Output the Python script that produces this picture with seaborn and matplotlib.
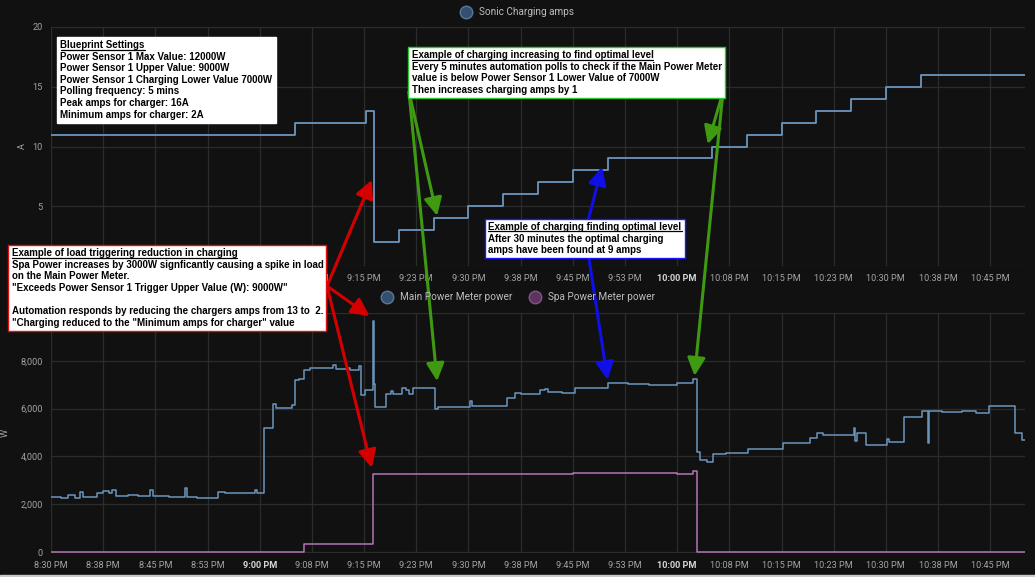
import matplotlib
matplotlib.use("Agg")
import matplotlib.pyplot as plt
from matplotlib.lines import Line2D
from matplotlib.patches import ConnectionPatch, Rectangle
from matplotlib.ticker import FuncFormatter
import numpy as np
import pandas as pd
import seaborn as sns

# --- data (x = minutes after 8:30 PM) ---
amp_min = [0, 35, 45.3, 46.4, 50, 55, 60, 65, 70, 75, 80, 95, 100, 105, 110, 115, 120, 125, 140]
amp_val = [11, 12, 13, 2, 3, 4, 5, 6, 7, 8, 9, 10, 11, 12, 13, 14, 15, 16, 16]

main_min = [0, 1.5, 2.5, 3.5, 4.2, 4.6, 6.6, 7.5, 8.3, 8.8, 9.4, 11, 12.5, 14.3, 14.6,
            17, 19.2, 19.5, 21, 24, 25, 26.5, 29.3, 29.6, 30.6, 31.9, 32.3, 34.6, 35.1,
            35.6, 36.4, 37.2, 39, 40.5, 41, 42.5, 43, 44.2, 44.6, 45.2, 46.3, 46.4, 46.6,
            48.2, 48.8, 49.2, 50.4, 51, 51.5, 52, 55.2, 55.6, 56.6, 60.2, 60.5, 61.5,
            65.5, 66.7, 67.5, 70.3, 71, 71.5, 73.5, 75.3, 76, 80.1, 83, 86, 88.5, 90,
            92.3, 92.8, 93.3, 94.3, 95.2, 97, 100.2, 105.2, 109.1, 110.1, 111, 115.4,
            115.6, 115.8, 117.2, 120.1, 120.5, 122.6, 125.2, 126, 126.2, 128, 131, 133,
            134.8, 138.5, 139.5, 140]
main_val = [2320, 2280, 2400, 2250, 2500, 2300, 2480, 2550, 2450, 2600, 2350, 2380, 2330, 2600, 2330,
            2300, 2700, 2300, 2280, 2500, 2480, 2450, 2600, 2450, 5200, 6200, 6020, 6150, 7200,
            7250, 7620, 7680, 7700, 7820, 7650, 7700, 7600, 7780, 6550, 6760, 9650, 7050, 6060,
            6600, 6750, 6600, 6850, 6780, 6600, 6850, 5980, 6080, 6050, 6330, 6100, 6130,
            6430, 6640, 6600, 6780, 6820, 6700, 6640, 6850, 6880, 7080, 7040, 7000, 6990, 7060,
            7220, 4200, 3850, 3780, 4100, 4130, 4300, 4550, 4760, 4970, 4900, 5180,
            4650, 5000, 4480, 4740, 4600, 5630, 5900, 4550, 5880, 5850, 5880, 5820,
            6100, 4970, 4690, 4690]

spa_min = [0, 36.4, 46.3, 60, 75, 90, 92.3, 92.9, 140]
spa_val = [0, 350, 3250, 3270, 3300, 3270, 3380, 0, 0]

tick_min = list(np.arange(0, 136, 7.5))
tick_labels = ["8:30 PM", "8:38 PM", "8:45 PM", "8:53 PM", "9:00 PM", "9:08 PM", "9:15 PM",
               "9:23 PM", "9:30 PM", "9:38 PM", "9:45 PM", "9:53 PM", "10:00 PM", "10:08 PM",
               "10:15 PM", "10:23 PM", "10:30 PM", "10:38 PM", "10:45 PM"]

BG = "#111111"
GRID = "#2c2c2c"
TXT = "#a3a3a3"
BLUE = "#6b95bd"
PINK = "#b574b5"

sns.set_theme(style="dark", rc={"axes.facecolor": BG, "figure.facecolor": BG,
                                "grid.color": GRID, "axes.edgecolor": BG})
plt.rcParams["font.family"] = ["Roboto", "DejaVu Sans"]

W, H = 1035, 577
fig = plt.figure(figsize=(W / 100, H / 100), dpi=100, facecolor=BG)


def fpx(x, y):
    return (x / W, 1 - y / H)


ax_a = fig.add_axes([51 / W, 1 - 266 / H, 974 / W, 239 / H])
ax_w = fig.add_axes([51 / W, 1 - 553 / H, 974 / W, 240 / H])

amps = pd.DataFrame({"t": amp_min, "A": amp_val})
main = pd.DataFrame({"t": main_min, "W": main_val})
spa = pd.DataFrame({"t": spa_min, "W": spa_val})

sns.lineplot(data=amps, x="t", y="A", ax=ax_a, color=BLUE, lw=1.3, drawstyle="steps-post")
sns.lineplot(data=main, x="t", y="W", ax=ax_w, color=BLUE, lw=1.1, drawstyle="steps-post")
sns.lineplot(data=spa, x="t", y="W", ax=ax_w, color=PINK, lw=1.1, drawstyle="steps-post")

ax_a.set_ylim(0, 20)
ax_a.set_yticks([0, 5, 10, 15, 20])
ax_w.set_ylim(-40, 10000)
ax_w.set_yticks([0, 2000, 4000, 6000, 8000, 10000])
ax_w.yaxis.set_major_formatter(FuncFormatter(lambda v, p: f"{v:,.0f}"))

for ax, lab, lx in [(ax_a, "A", -0.025), (ax_w, "W", -0.042)]:
    ax.set_xlim(0, 140)
    ax.set_xticks(tick_min)
    ax.set_xticklabels(tick_labels)
    ax.grid(True, color=GRID, lw=0.9)
    ax.tick_params(axis="both", length=0, labelsize=6.6, labelcolor=TXT, pad=6)
    ax.set_xlabel("")
    ax.set_ylabel(lab, color=TXT, fontsize=6.6)
    ax.yaxis.set_label_coords(lx, 0.5)
    for s in ax.spines.values():
        s.set_visible(False)
    for tl in ax.get_xticklabels():
        if tl.get_text() in ("9:00 PM", "10:00 PM"):
            tl.set_fontweight("bold")
            tl.set_color("#d6d6d6")

# legends
def dot(fc, ec):
    return Line2D([], [], marker="o", ls="none", ms=9, mfc=fc, mec=ec, mew=1)

fig.legend([dot("#34506e", "#56789c")], ["Sonic Charging amps"], loc="center",
           bbox_to_anchor=fpx(515, 12), frameon=False, fontsize=7.2, labelcolor="#bdbdbd",
           handletextpad=0.3)
fig.legend([dot("#34506e", "#56789c"), dot("#5e335e", "#86508a")],
           ["Main Power Meter power", "Spa Power Meter power"], loc="center", ncol=2,
           bbox_to_anchor=fpx(516, 297), frameon=False, fontsize=7.2, labelcolor="#bdbdbd",
           handletextpad=0.3, columnspacing=1.2)

# annotation boxes
note_font = dict(family=["Liberation Sans", "DejaVu Sans"], fontweight="bold", fontsize=7.0,
                 color="black", linespacing=1.2)

blueprint = ["Blueprint Settings", "Power Sensor 1 Max Value: 12000W",
             "Power Sensor 1 Upper Value: 9000W", "Power Sensor 1 Charging Lower Value 7000W",
             "Polling frequency: 5 mins", "Peak amps for charger: 16A",
             "Minimum amps for charger: 2A"]
green_note = ["Example of charging increasing to find optimal level",
              "Every 5 minutes automation polls to check if the Main Power Meter",
              "value is below Power Sensor 1 Lower Value of 7000W",
              "Then increases charging amps by 1"]
blue_note = ["Example of charging finding optimal level",
             "After 30 minutes the optimal charging",
             "amps have been found at 9 amps"]
red_note = ["Example of load triggering reduction in charging",
            "Spa Power increases by 3000W signficantly causing a spike in load",
            "on the Main Power Meter.",
            "\"Exceeds Power Sensor 1 Trigger Upper Value (W): 9000W\"",
            "",
            "Automation responds by reducing the chargers amps from 13 to  2.",
            "\"Charging reduced to the \"Minimum amps for charger\" value"]

notes = []
for (x, y, lines, ec) in [(60.5, 40, blueprint, "white"), (411.5, 50, green_note, "#2fc72f"),
                          (488.5, 222, blue_note, "#1a1aff"), (11.5, 248, red_note, "#e01010")]:
    t = fig.text(*fpx(x, y), "\n".join(lines), ha="left", va="top", zorder=6,
                 bbox=dict(boxstyle="square,pad=0.33", fc="white", ec=ec, lw=1), **note_font)
    notes.append((t, lines))

# arrows
arrows = [
    ((327, 286), ax_a, (46.1, 7.2), "#d40000"),
    ((327, 286), ax_w, (45.8, 9870), "#d40000"),
    ((327, 286), ax_w, (46.1, 3520), "#d40000"),
    ((409, 92), ax_a, (55.5, 4.2), "#3f9a12"),
    ((409, 92), ax_w, (55.5, 7150), "#3f9a12"),
    ((723, 92), ax_a, (94.4, 10.2), "#3f9a12"),
    ((723, 92), ax_w, (92.5, 7370), "#3f9a12"),
    ((587, 225), ax_a, (79.2, 8.3), "#1010e6"),
    ((588, 252), ax_w, (80.0, 7200), "#1010e6"),
]
for start, axb, tip, col in arrows:
    con = ConnectionPatch(xyA=fpx(*start), coordsA="figure fraction", xyB=tip,
                          coordsB="data", axesB=axb, arrowstyle="-|>,head_length=0.9,head_width=0.45",
                          mutation_scale=12, color=col, lw=2.2, shrinkA=0, shrinkB=0, zorder=5)
    fig.add_artist(con)

# thin light strip along the bottom edge
fig.add_artist(Rectangle((0, 0), 1, 2 / H, transform=fig.transFigure, color="#c9c9c9", zorder=8))

# underline the headings of the boxes
fig.canvas.draw()
r = fig.canvas.get_renderer()
inv = fig.transFigure.inverted()
for t, lines in notes:
    ext = t.get_window_extent(r)
    tmp = fig.text(0, 0, lines[0], **note_font)
    hw = tmp.get_window_extent(r).width
    tmp.remove()
    lh = ext.height / len(lines)
    yu = ext.y1 - lh * 0.85
    (x0, y0), (x1, _) = inv.transform([(ext.x0, yu), (ext.x0 + hw, yu)])
    fig.add_artist(Line2D([x0, x1], [y0, y0], transform=fig.transFigure, color="black",
                          lw=0.9, zorder=7))

fig.savefig("out.png", dpi=100, facecolor=BG)
